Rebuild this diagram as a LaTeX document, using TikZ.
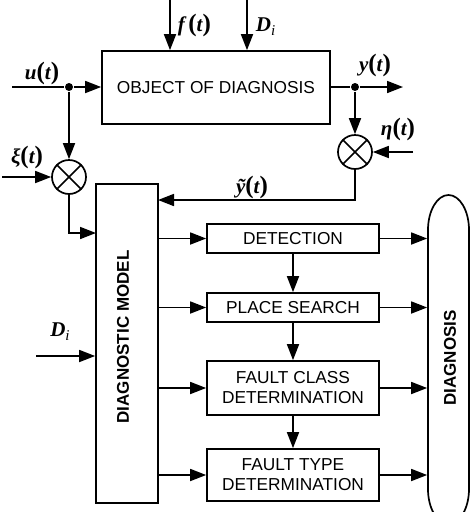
\documentclass[tikz,border=0pt]{standalone}
\usepackage{fontspec}
\newfontfamily\boxfont{Liberation Sans}
\newfontfamily\lblfont{Liberation Serif}
\usetikzlibrary{arrows.meta}
\newcommand{\bpar}[1]{{\fontsize{25}{25}\selectfont\bfseries\upshape #1}}
\newcommand{\sigl}[1]{{\bfseries\itshape #1\bpar{(}t\bpar{)}}}
\newcommand{\sigD}{{\bfseries\itshape D\raisebox{-0.4ex}{\fontsize{15}{15}\selectfont\mdseries i}}}
\begin{document}
\begin{tikzpicture}[x=1pt,y=-1pt, line width=1.7pt,
  >={Triangle[length=16pt,width=12pt]},
  blk/.style={draw, rectangle, inner sep=0pt, minimum width=172pt, font=\boxfont\fontsize{17.3}{20}\selectfont, align=center},
  txt/.style={font=\boxfont\bfseries\fontsize{17}{20}\selectfont, inner sep=0pt, rotate=90},
  lbl/.style={font=\lblfont\fontsize{21}{22}\selectfont, inner sep=0pt},
  sumc/.style={draw, circle, minimum size=34pt, inner sep=0pt},
  dot/.style={circle, fill, minimum size=8pt, inner sep=0pt}]
\useasboundingbox (0,0) rectangle (474,512);

% blocks
\node[blk, minimum width=228pt, minimum height=73pt] (obj) at (216,87.5) {OBJECT OF DIAGNOSIS};
\node[draw, rectangle, minimum width=62pt, minimum height=319pt, inner sep=0pt] (diag) at (127,343.5) {};
\node[txt] (dmtxt) at (123,337) {DIAGNOSTIC MODEL};
\node[blk, minimum height=29pt] (det) at (293,238.5) {DETECTION};
\node[blk, minimum height=29pt] (ps) at (293,307.5) {PLACE SEARCH};
\node[blk, minimum height=54pt] (fc) at (293,388) {FAULT CLASS\\DETERMINATION};
\node[blk, minimum height=52pt] (ft) at (293,475) {FAULT TYPE\\DETERMINATION};

% diagnosis capsule
\node[rectangle, minimum width=41pt, minimum height=329pt, inner sep=0pt] (dg) at (448.5,359.5) {};
\draw (428,230) arc[start angle=180, end angle=360, x radius=20.5, y radius=35]
      -- (469,489) arc[start angle=0, end angle=180, x radius=20.5, y radius=35] -- cycle;
\node[txt] (dgtxt) at (450,358) {DIAGNOSIS};

% summing junctions
\node[sumc] (s1) at (69,177) {};
\draw (s1.north west) -- (s1.south east) (s1.north east) -- (s1.south west);
\node[sumc] (s2) at (355,152) {};
\draw (s2.north west) -- (s2.south east) (s2.north east) -- (s2.south west);

% junction dots
\node[dot] (j1) at (69,87) {};
\node[dot] (j2) at (355,87) {};

% free ends
\coordinate (uin) at (12,87);
\coordinate (yout) at (403,87);
\coordinate (fin) at (170,0);
\coordinate (Din) at (247,0);
\coordinate (xin) at (2,177);
\coordinate (ein) at (413,152);
\coordinate (dmin) at (96,233);
\coordinate (yt) at (158,200);
\coordinate (din) at (36,356);

% connectors
\draw (uin) -- (j1);
\draw[->] (j1) -- (j1 -| obj.west);
\draw[->] (fin) -- (fin |- obj.north);
\draw[->] (Din) -- (Din |- obj.north);
\draw (obj.east |- j2) -- (j2);
\draw[->] (j2) -- (yout);
\draw[->] (j1) -- (s1);
\draw[->] (xin) -- (s1);
\draw[->] (j2) -- (s2);
\draw[->] (ein) -- (s2);
\draw[->] (s1) |- (dmin);
\draw[->] (s2) |- (yt);
\draw[->] (din) -- (din -| diag.west);

\foreach \b in {det,ps,fc,ft}{
  \draw[->] (diag.east |- \b.west) -- (\b.west);
  \draw[->] (\b.east) -- (\b.east -| dg.west);
}
\draw[->] (det) -- (ps);
\draw[->] (ps) -- (fc);
\draw[->] (fc) -- (ft);

% labels
\node[lbl] (lu) at (42,73) {\sigl{u}};
\node[lbl, anchor=west] (lf) at (177,25) {{\bfseries\itshape f\,}\sigl{}};
\node[lbl, anchor=west] (lD1) at (255,27) {\sigD};
\node[lbl] (ly) at (375,65) {\sigl{y}};
\node[lbl] (le) at (398,129) {\sigl{η}};
\node[lbl] (lx) at (27,157) {\sigl{ξ}};
\node[lbl] (lyt) at (252,187) {\sigl{ỹ}};
\node[lbl] (lD2) at (60,332) {\sigD};
\end{tikzpicture}
\end{document}
